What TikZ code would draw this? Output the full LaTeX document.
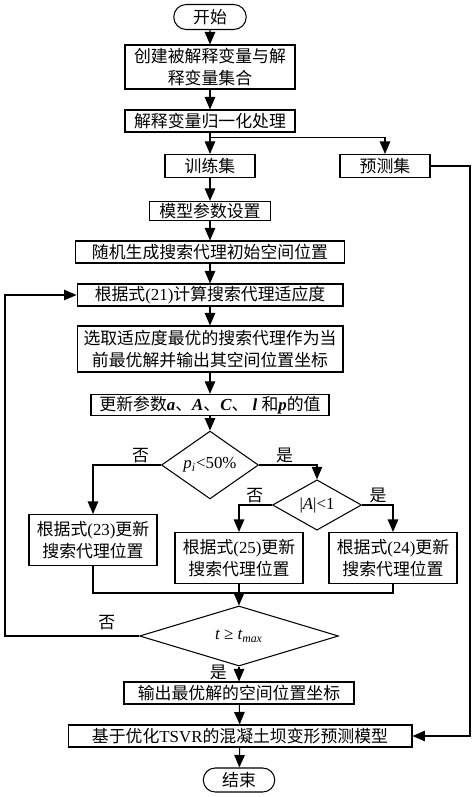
\documentclass[tikz,border=0pt]{standalone}
\usepackage{fontspec}
\setmainfont{Liberation Serif}
\newfontfamily\cjk{Noto Sans CJK SC}
\usetikzlibrary{shapes.geometric,shapes.misc,arrows.meta}
\newcommand\lat[1]{{\rmfamily #1}}
\newcommand\bvar[1]{{\rmfamily\bfseries\itshape #1}}
\newcommand\ivar[1]{{\rmfamily\itshape #1}}

\begin{document}
\begin{tikzpicture}[x=0.02cm,y=-0.02cm,
		font=\cjk\fontsize{9.6pt}{13pt}\selectfont,
		proc/.style={draw, line width=0.6pt, inner sep=1pt, align=center},
		term/.style={draw, rounded rectangle, line width=0.6pt, inner sep=1pt},
		cond/.style={draw, diamond, line width=0.6pt, inner sep=0pt},
		arr/.style={-{Triangle[length=2.5mm,width=2.1mm]}, line width=0.6pt},
		lbl/.style={inner sep=1pt}]
		\useasboundingbox (0,0) rectangle (474,797);

		% Start and data preparation
		\node[term, minimum width=1.52cm, minimum height=0.5cm] (start) at (210,17) {开始};
		\node[proc, minimum width=3.4cm, minimum height=0.88cm] (vars) at (210,67) {创建被解释变量与解\\释变量集合};
		\node[proc, minimum width=3.4cm, minimum height=0.44cm] (norm) at (210,121) {解释变量归一化处理};
		\node[proc, minimum width=1.8cm, minimum height=0.46cm] (train) at (210,166) {训练集};
		\node[proc, minimum width=1.8cm, minimum height=0.46cm] (pred) at (385,166) {预测集};
		\coordinate (rline) at (470,0);
		\coordinate (lline) at (5,0);

		% Optimisation loop
		\node[proc, minimum width=2.42cm, minimum height=0.38cm] (param) at (210,211) {模型参数设置};
		\node[proc, minimum width=5.38cm, minimum height=0.44cm] (init) at (210,252) {随机生成搜索代理初始空间位置};
		\node[proc, minimum width=5.32cm, minimum height=0.44cm] (fit) at (210,295) {根据式\lat{(21)}计算搜索代理适应度};
		\node[proc, minimum width=5.32cm, minimum height=0.92cm] (best) at (210,349) {选取适应度最优的搜索代理作为当\\前最优解并输出其空间位置坐标};
		\node[proc, minimum width=4.76cm, minimum height=0.42cm] (upd) at (210,405) {更新参数\bvar{a}、\bvar{A}、\bvar{C}、\lat{ }\bvar{l}\lat{ }和\bvar{p}的值};
		\node[cond, minimum width=1.94cm, minimum height=1.12cm] (pcond) at (210,465) {\lat{\ivar{p}\textsubscript{\ivar{i}}<50\%}};
		\node[cond, minimum width=1.78cm, minimum height=0.88cm] (acond) at (317,505) {\lat{|\ivar{A}|<1}};
		\node[proc, minimum width=2.56cm, minimum height=1.02cm] (eq23) at (93,540) {根据式\lat{(23)}更新\\搜索代理位置};
		\node[proc, minimum width=2.56cm, minimum height=1.02cm] (eq25) at (239,558) {根据式\lat{(25)}更新\\搜索代理位置};
		\node[proc, minimum width=2.56cm, minimum height=1.02cm] (eq24) at (393,558) {根据式\lat{(24)}更新\\搜索代理位置};
		\coordinate (merge) at (239,593);
		\node[cond, minimum width=3.98cm, minimum height=0.9cm] (tcond) at (239,636) {\lat{\ivar{t} ≥ \ivar{t}\textsubscript{\ivar{max}}}};

		% Output
		\node[proc, minimum width=4.6cm, minimum height=0.44cm] (out) at (239,693) {输出最优解的空间位置坐标};
		\node[proc, minimum width=6.88cm, minimum height=0.44cm] (model) at (240,736) {基于优化\lat{TSVR}的混凝土坝变形预测模型};
		\node[term, minimum width=1.5cm, minimum height=0.48cm] (stop) at (239,780) {结束};

		% Connectors
		\draw[arr] (start) -- (vars);
		\draw[arr] (vars) -- (norm);
		\draw[arr] (norm) -- (train);
		\draw[arr] (norm.south) -- ++(0,5) -| (pred.north);
		\draw[arr] (pred.east) -- (pred.east -| rline) |- (model.east);
		\draw[arr] (train) -- (param);
		\draw[arr] (param) -- (init);
		\draw[arr] (init) -- (fit);
		\draw[arr] (fit) -- (best);
		\draw[arr] (best) -- (upd);
		\draw[arr] (upd) -- (pcond);
		\draw[arr] (pcond.west) -| node[lbl, pos=0.15, above] {否} (eq23.north);
		\draw[arr] (pcond.east) -| node[lbl, pos=0.22, above] {是} (acond.north);
		\draw[arr] (acond.west) -| node[lbl, pos=0.26, above] {否} (eq25.north);
		\draw[arr] (acond.east) -| node[lbl, pos=0.26, above] {是} (eq24.north);
		\draw[line width=0.6pt] (eq23.south) |- (merge) -| (eq24.south);
		\draw[arr] (eq25.south) -- (tcond.north);
		\draw[arr] (tcond.west) -- node[lbl, pos=0.24, above=2pt] {否} (tcond.west -| lline) |- (fit.west);
		\draw[arr] (tcond.south) -- node[lbl, pos=0.4, left=2mm] {是} (out.north);
		\draw[arr] (out) -- (model);
		\draw[arr] (model) -- (stop);
	\end{tikzpicture}
\end{document}
